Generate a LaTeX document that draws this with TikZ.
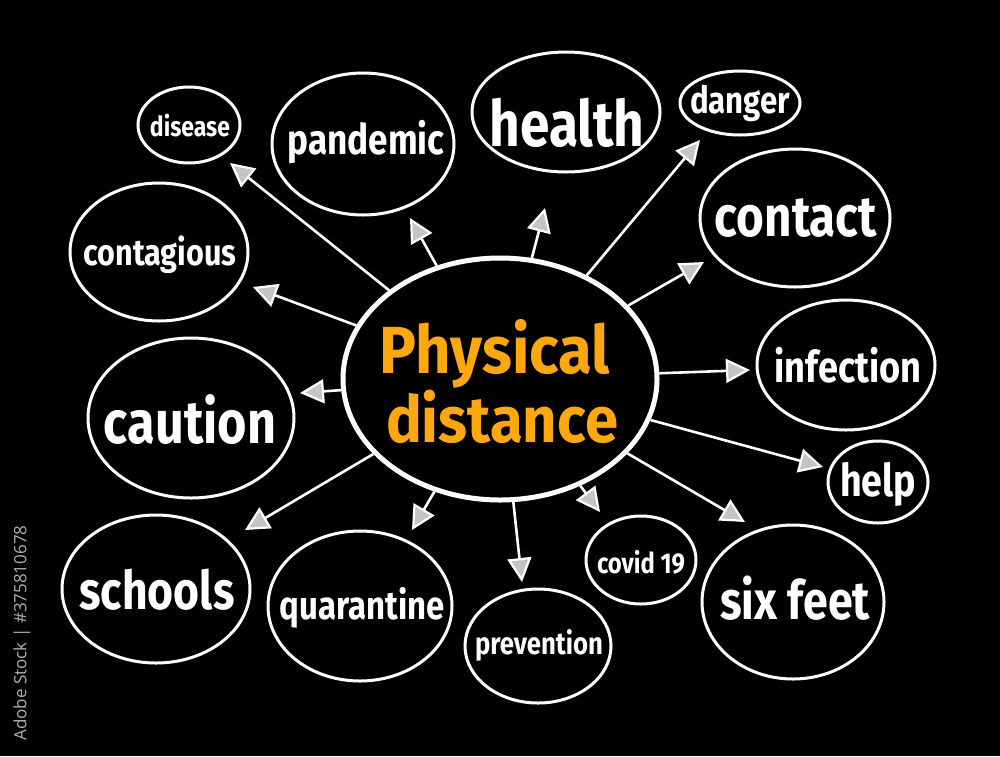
\documentclass[tikz,border=0pt]{standalone}
\usepackage{fontspec}
\setmainfont{Fira Sans}
\newfontfamily\wmfont{Open Sans}
\usetikzlibrary{shapes.geometric,arrows.meta}
\definecolor{ctrorange}{HTML}{FFA70F}
\definecolor{wmgray}{HTML}{B0B0B0}
\definecolor{hatchgray}{HTML}{C4C4C4}
\newcommand{\fitw}[2]{\resizebox{#1pt}{!}{\scalebox{1}[1.2]{#2}}}
\newcommand{\fitc}[2]{\resizebox{#1pt}{!}{\scalebox{1}[1.08]{#2}}}
\begin{document}
\begin{tikzpicture}[x=1pt,y=-1pt,
  bubble/.style={ellipse, draw=white, line width=3pt, inner sep=0pt},
  lbl/.style={text=white, inner sep=0pt, font=\bfseries},
  arr/.style={draw=white, line width=2.6pt, -{Triangle[length=24pt,width=24pt,line width=2.2pt,fill=hatchgray]}},
]
\fill[black] (0,0) rectangle (1000,756);
\useasboundingbox (0,0) rectangle (1000,756);

% bubbles
\node[bubble, line width=5pt, minimum width=314pt, minimum height=242pt] (c) at (500,379) {};
\node[bubble, minimum width=102pt, minimum height=76pt]  (disease)    at (189,125) {};
\node[bubble, minimum width=182pt, minimum height=142pt] (pandemic)   at (363,144) {};
\node[bubble, minimum width=188pt, minimum height=120pt] (health)     at (566,112) {};
\node[bubble, minimum width=120pt, minimum height=64pt]  (danger)     at (740,103) {};
\node[bubble, minimum width=190pt, minimum height=138pt] (contact)    at (795,218) {};
\node[bubble, minimum width=178pt, minimum height=138pt] (contagious) at (159,252) {};
\node[bubble, minimum width=178pt, minimum height=130pt] (infection)  at (846,365) {};
\node[bubble, minimum width=206pt, minimum height=160pt] (caution)    at (191,418) {};
\node[bubble, minimum width=100pt, minimum height=82pt]  (help)       at (878,482) {};
\node[bubble, minimum width=188pt, minimum height=148pt] (schools)    at (156,589) {};
\node[bubble, minimum width=184pt, minimum height=150pt] (quarantine) at (360,606) {};
\node[bubble, minimum width=146pt, minimum height=114pt] (prevention) at (538,646) {};
\node[bubble, minimum width=110pt, minimum height=88pt]  (covid)      at (641,560) {};
\node[bubble, minimum width=182pt, minimum height=154pt] (sixfeet)    at (793,602) {};

% labels
\node[lbl, text=ctrorange, anchor=base] (tphys) at (495,373) {\fitc{230}{Physical}};
\node[lbl, text=ctrorange, anchor=base] (tdist) at (502,442) {\fitc{232}{distance}};
\node[lbl] (tdisease)    at (190,126) {\fitw{80}{disease}};
\node[lbl] (tpandemic)   at (366,142) {\fitw{157}{pandemic}};
\node[lbl] (thealth)     at (567,123) {\fitw{155}{health}};
\node[lbl] (tdanger)     at (740,103) {\fitw{100}{danger}};
\node[lbl] (tcontact)    at (796,218) {\fitw{162}{contact}};
\node[lbl] (tcontagious) at (160,255) {\fitw{153}{contagious}};
\node[lbl] (tinfection)  at (848,365) {\fitw{147}{infection}};
\node[lbl] (tcaution)    at (190,420) {\fitw{172}{caution}};
\node[lbl] (thelp)       at (878,484) {\fitw{76}{help}};
\node[lbl] (tschools)    at (157,590) {\fitw{155}{schools}};
\node[lbl] (tquarantine) at (362,608) {\fitw{165}{quarantine}};
\node[lbl] (tprevention) at (539,645) {\fitw{128}{prevention}};
\node[lbl] (tcovid)      at (641,562) {\fitw{88}{covid 19}};
\node[lbl] (tsixfeet)    at (795,598) {\fitw{150}{six feet}};

% arrow tips
\coordinate (adisease)    at (230,163);
\coordinate (acontagious) at (253,287);
\coordinate (acaution)    at (300,393);
\coordinate (aschools)    at (245,530);
\coordinate (aquarantine) at (412,530);
\coordinate (aprevention) at (522,582);
\coordinate (acovid)      at (600,512);
\coordinate (asixfeet)    at (745,522);
\coordinate (ahelp)       at (823,467);
\coordinate (ainfection)  at (750,370);
\coordinate (acontact)    at (704,262);
\coordinate (adanger)     at (700,140);
\coordinate (ahealth)     at (545,208);
\coordinate (apandemic)   at (410,218);

\foreach \t in {adisease,acontagious,acaution,aschools,aquarantine,aprevention,acovid,asixfeet,ahelp,ainfection,acontact,adanger,ahealth,apandemic}
  \draw[arr] (c) -- (\t);

% watermark id
\node[rotate=90, text=wmgray, font=\wmfont\fontsize{17}{20}\selectfont, inner sep=0pt] (wm) at (22,633) {Adobe Stock | \#375810678};
\end{tikzpicture}
\end{document}
